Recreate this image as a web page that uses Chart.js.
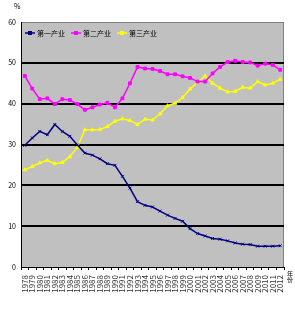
<!DOCTYPE html>
<html lang="zh">
<head>
<meta charset="UTF-8">
<title>三次产业结构</title>
<script src="https://cdn.jsdelivr.net/npm/chart.js"></script>
<style>
    body { margin: 0; background: #fff; }
    #wrap { width: 295px; height: 316px; }
</style>
</head>
<body>
<div id="wrap"><canvas id="c" width="295" height="316"></canvas></div>
<script>
    const years = [];
    for (let y = 1978; y <= 2012; y++) years.push(String(y));

    const primary = [29.8, 31.6, 33.2, 32.4, 34.9, 33.2, 32.0, 29.9, 27.9, 27.4,
        26.5, 25.3, 24.9, 22.2, 19.3, 16.0, 15.1, 14.7, 13.7, 12.7,
        11.9, 11.2, 9.4, 8.2, 7.6, 7.0, 6.8, 6.4, 5.9, 5.6,
        5.5, 5.1, 5.1, 5.1, 5.2];
    const secondary = [46.8, 43.7, 41.1, 41.3, 39.9, 41.1, 40.9, 39.9, 38.5, 39.1,
        39.8, 40.2, 39.1, 41.3, 45.0, 49.0, 48.6, 48.5, 48.0, 47.2,
        47.2, 46.7, 46.3, 45.4, 45.4, 47.4, 49.0, 50.2, 50.5, 50.2,
        50.1, 49.3, 49.8, 49.5, 48.3];
    const tertiary = [23.8, 24.6, 25.5, 26.1, 25.3, 25.6, 27.0, 29.3, 33.6, 33.6,
        33.7, 34.4, 35.7, 36.3, 35.9, 34.9, 36.2, 36.0, 37.5, 39.5,
        40.1, 41.5, 43.6, 45.2, 46.8, 45.0, 43.8, 42.9, 43.0, 44.0,
        43.8, 45.4, 44.6, 45.0, 46.0];
    const seriesNames = ['第一产业', '第二产业', '第三产业'];
    const yTicks = [0, 10, 20, 30, 40, 50, 60];

    const font = "'Noto Sans CJK SC', 'DejaVu Sans', sans-serif";

    // grey plot background + border, extra labels, legend inside plot
    const decor = {
        id: 'decor',
        beforeDraw(chart) {
            const a = chart.chartArea, ctx = chart.ctx;
            ctx.save();
            ctx.fillStyle = '#c0c0c0';
            ctx.fillRect(a.left, a.top, a.right - a.left, a.bottom - a.top);
            ctx.strokeStyle = '#808080';
            ctx.lineWidth = 1;
            ctx.strokeRect(a.left + 0.5, a.top + 0.5, a.right - a.left - 1, a.bottom - a.top);
            ctx.restore();
            // year labels look stretched in the original: space the digits out
            const xs = chart.scales.x;
            if (!xs._spaced) {
                const orig = xs.draw.bind(xs);
                xs.draw = function (area) {
                    ctx.save();
                    ctx.letterSpacing = '2px';
                    orig(area);
                    ctx.restore();
                };
                xs._spaced = true;
            }
        },
        afterDraw(chart) {
            const a = chart.chartArea, ctx = chart.ctx;
            ctx.save();
            ctx.fillStyle = '#000';
            ctx.font = '7px ' + font;
            ctx.textAlign = 'left';
            ctx.textBaseline = 'middle';
            ctx.fillText('%', 14, 6);
            // x axis title, stacked
            ctx.textAlign = 'center';
            ctx.font = '6px ' + font;
            ctx.fillText('年', 290, a.bottom + 7);
            ctx.fillText('份', 290, a.bottom + 13);
            // legend
            let x = a.left + 4;
            const y = a.top + 11;
            ctx.font = '7px ' + font;
            chart.data.datasets.forEach(ds => {
                ctx.strokeStyle = ds.borderColor;
                ctx.lineWidth = 1.5;
                ctx.beginPath();
                ctx.moveTo(x, y);
                ctx.lineTo(x + 10, y);
                ctx.stroke();
                ctx.fillStyle = ds.borderColor;
                ctx.fillRect(x + 3, y - 2, 4, 4);
                ctx.fillStyle = '#000';
                ctx.textAlign = 'left';
                ctx.fillText(ds.label, x + 12, y);
                x += 12 + ctx.measureText(ds.label).width + 6;
            });
            ctx.restore();
        }
    };

    function ds(label, data, color, style) {
        return {
            label: label,
            data: data,
            borderColor: color,
            backgroundColor: color,
            borderWidth: 1.5,
            pointStyle: style,
            pointRadius: 2,
            pointBorderWidth: 1,
            tension: 0,
            fill: false
        };
    }

    new Chart(document.getElementById('c'), {
        type: 'line',
        data: {
            labels: years,
            datasets: [
                ds(seriesNames[0], primary, '#000080', 'crossRot'),
                ds(seriesNames[1], secondary, '#ff00ff', 'rect'),
                ds(seriesNames[2], tertiary, '#ffff00', 'triangle')
            ]
        },
        options: {
            responsive: false,
            animation: false,
            layout: { padding: { top: 22, right: 11, left: 0, bottom: 0 } },
            plugins: { legend: { display: false }, tooltip: { enabled: false } },
            scales: {
                x: {
                    offset: true,
                    grid: { offset: true, drawOnChartArea: false, drawTicks: true, tickLength: 3, color: '#000' },
                    border: { display: true, color: '#000', width: 1 },
                    ticks: {
                        autoSkip: false, maxRotation: 90, minRotation: 90,
                        font: { size: 8, family: font }, color: '#333', padding: 5
                    },
                    afterFit(s) { s.height = 49; }
                },
                y: {
                    min: 0, max: 60,
                    afterBuildTicks(s) { s.ticks = yTicks.map(v => ({ value: v })); },
                    grid: {
                        drawTicks: false,
                        color: c => (c.tick.value === 0 || c.tick.value === 60) ? 'rgba(0,0,0,0)' : '#000',
                        lineWidth: 2
                    },
                    border: { display: true, color: '#000', width: 1 },
                    ticks: { font: { size: 7, family: font }, color: '#000', padding: 5 },
                    afterFit(s) { s.width = 21; }
                }
            }
        },
        plugins: [decor]
    });
</script>
</body>
</html>
